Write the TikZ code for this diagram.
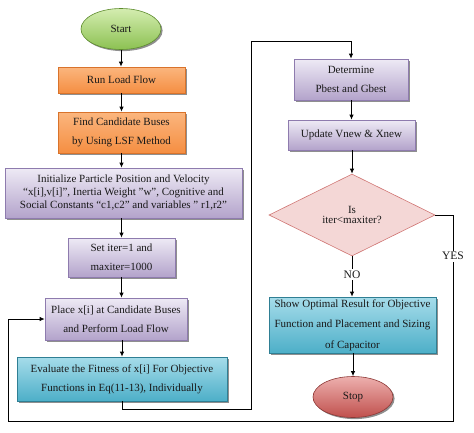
\documentclass[tikz,border=0pt]{standalone}
\usepackage{fontspec}
\setmainfont{Liberation Serif}
\usetikzlibrary{shapes.geometric,shadows,arrows.meta}
\definecolor{orT}{HTML}{FBB67E}
\definecolor{orB}{HTML}{F58E42}
\definecolor{orD}{HTML}{D9732B}
\definecolor{puT}{HTML}{EEEAF5}
\definecolor{puB}{HTML}{B3A3CB}
\definecolor{puD}{HTML}{8E7BAE}
\definecolor{teT}{HTML}{A6DCEA}
\definecolor{teB}{HTML}{4DAFC8}
\definecolor{teD}{HTML}{2F7F94}
\definecolor{grT}{HTML}{D4EDB0}
\definecolor{grB}{HTML}{8CC152}
\definecolor{grD}{HTML}{5E8C2E}
\definecolor{reT}{HTML}{EDB0AE}
\definecolor{reB}{HTML}{C0504D}
\definecolor{reD}{HTML}{8C3836}
\definecolor{diF}{HTML}{F4D7D6}
\definecolor{diD}{HTML}{D07573}
\begin{document}
\begin{tikzpicture}[x=1pt,y=-1pt,
  every node/.style={font=\fontsize{11}{19}\selectfont, text=black!90, align=center, inner sep=0pt},
  shad/.style={drop shadow={shadow xshift=1.6pt,shadow yshift=-1.6pt,fill=black!55,opacity=0.8}},
  orbox/.style={rectangle, draw=orD, line width=0.6pt, top color=orT, bottom color=orB, shad},
  pubox/.style={rectangle, draw=puD, line width=0.6pt, top color=puT, bottom color=puB, shad},
  tebox/.style={rectangle, draw=teD, line width=0.6pt, top color=teT, bottom color=teB, shad},
  arr/.style={draw=black, line width=0.9pt, -{Latex[length=5pt,width=4.5pt]}},
  lbl/.style={fill=white, inner sep=1.5pt, font=\fontsize{11.5}{13}\selectfont}
]
\useasboundingbox (0,0) rectangle (474,432);
% left column
\node[ellipse, draw=grD, line width=0.6pt, top color=grT, bottom color=grB, shad,
      minimum width=80, minimum height=41] (start) at (121,29) {Start};
\node[orbox, minimum width=127, minimum height=26] (run) at (121.5,80) {Run Load Flow};
\node[orbox, minimum width=127, minimum height=41] (find) at (121.5,132.5) {Find Candidate Buses\\by Using LSF Method};
\node[pubox, minimum width=237, minimum height=50, font=\fontsize{11}{13}\selectfont] (init) at (123.5,193)
  {Initialize Particle Position and Velocity\\“x[i],v[i]”, Inertia Weight ”w”, Cognitive and\\Social Constants “c1,c2” and variables ” r1,r2”};
\node[pubox, minimum width=107, minimum height=39] (set) at (121.5,257.5) {Set iter=1 and\\maxiter=1000};
\node[pubox, minimum width=142, minimum height=42] (place) at (116,319) {Place x[i] at Candidate Buses\\and Perform Load Flow};
\node[tebox, minimum width=210, minimum height=44] (eval) at (122,379) {Evaluate the Fitness of x[i] For Objective\\Functions in Eq(11-13), Individually};
% right column
\node[pubox, minimum width=114, minimum height=41] (det) at (351,79.5) {Determine\\Pbest and Gbest};
\node[pubox, minimum width=127, minimum height=30] (upd) at (351.5,135) {Update Vnew \& Xnew};
\node[diamond, draw=diD, line width=0.6pt, fill=diF, shape aspect=2,
      minimum width=166, minimum height=82, font=\fontsize{11}{15}\selectfont] (dia) at (352,215) {\raisebox{-4pt}{\shortstack{Is\\iter<maxiter?}}};
\node[tebox, minimum width=167, minimum height=56, font=\fontsize{11}{20.5}\selectfont] (show) at (352.5,325)
  {Show Optimal Result for Objective\\Function and Placement and Sizing\\of Capacitor};
\node[ellipse, draw=reD, line width=0.6pt, top color=reT, bottom color=reB, shad,
      minimum width=80, minimum height=41] (stop) at (353,397) {Stop};
% loop coordinates
\coordinate (l1) at (251,409);
\coordinate (l2) at (251,41);
\coordinate (r1) at (453,421);
\coordinate (r2) at (8,421);
% connectors
\draw[arr] (start.south) -- (start.south |- run.north);
\draw[arr] (run.south) -- (run.south |- find.north);
\draw[arr] (find.south) -- (find.south |- init.north);
\draw[arr] (set.south |- init.south) -- (set.north);
\draw[arr] (set.south) -- (set.south |- place.north);
\draw[arr] (eval.north |- place.south) -- (eval.north);
\draw[arr] (eval.south) |- (l1) -- (l2) -| (det.north);
\draw[arr] (det.south -| upd.north) -- (upd.north);
\draw[arr] (dia.north |- upd.south) -- (dia.north);
\draw[arr] (dia.south) -- node[lbl, pos=0.45] (no) {NO} (dia.south |- show.north);
\draw[arr] (show.south -| stop.north) -- (stop.north);
\draw[arr] (dia.east) -| node[lbl, pos=0.6] (yes) {YES} (r1) -- (r2) |- (place.west);
\end{tikzpicture}
\end{document}
